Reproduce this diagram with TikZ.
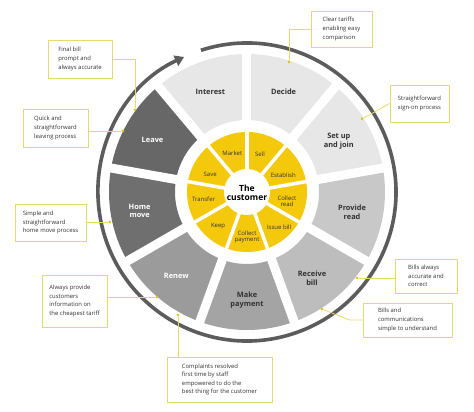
\documentclass[tikz,border=0pt]{standalone}
\usepackage{fontspec}
\setmainfont{Open Sans}
\usetikzlibrary{arrows.meta}
\definecolor{eyyellow}{HTML}{F4C90C}
\definecolor{ringgrey}{HTML}{5C5C5C}
\definecolor{calloutline}{HTML}{E6DA6A}
\definecolor{pinyellow}{HTML}{E2C417}
\definecolor{textgrey}{HTML}{333333}
\definecolor{segA}{HTML}{E7E7E7}
\definecolor{segB}{HTML}{C8C8C8}
\definecolor{segC}{HTML}{BDBDBD}
\definecolor{segD}{HTML}{A4A4A4}
\definecolor{segE}{HTML}{9B9B9B}
\definecolor{segF}{HTML}{6F6F6F}
\definecolor{segG}{HTML}{676767}

\begin{document}
\begin{tikzpicture}[x=1pt,y=1pt,
    seglabel/.style={align=center,font=\fontsize{7.4}{8.8}\selectfont\bfseries,text=textgrey},
    darklabel/.style={seglabel,text=white},
    inlabel/.style={align=center,font=\fontsize{6}{6.8}\selectfont,text=textgrey},
    callout/.style={draw=calloutline,line width=0.8pt,fill=white,align=left,
                    inner sep=3pt,font=\fontsize{5.9}{8.6}\selectfont,text=textgrey},
    link/.style={draw=calloutline,line width=0.8pt},
    pin/.style={circle,fill=pinyellow,inner sep=0pt,minimum size=3pt}]

  \useasboundingbox (-247,-220) rectangle (227,192);

  % outer stages
  \foreach \a/\col in {110/segA,70/segA,30/segA,-10/segB,-50/segC,
                       -90/segD,-130/segE,-170/segF,150/segG}{
    \pgfmathsetmacro\lo{\a-20}
    \pgfmathsetmacro\hi{\a+20}
    \fill[\col] (\lo:72) -- (\lo:138) arc[start angle=\lo,end angle=\hi,radius=138pt]
      -- (\hi:72) arc[start angle=\hi,end angle=\lo,radius=72pt] -- cycle;
  }
  \foreach \a in {90,50,...,-230}
    \draw[white,line width=9pt] (\a:62) -- (\a:142);

  % inner yellow wheel
  \fill[eyyellow] (0,0) circle[radius=60pt];
  \foreach \a in {90,50,...,-230}
    \draw[white,line width=3.5pt] (0,0) -- (\a:63);
  \fill[white] (0,0) circle[radius=23pt];

  % ring with arrow
  \draw[ringgrey,line width=3.6pt,-{Triangle[length=9pt,width=11pt]}]
    (108:149) arc[start angle=108,end angle=-245,radius=149pt];

  % stage labels
  \node[seglabel] (interest) at (110:107) {Interest};
  \node[seglabel] (decide) at (70:107) {Decide};
  \node[seglabel] (setup) at (29:105) {Set up\\and join};
  \node[seglabel] (provide) at (-11:107) {Provide\\read};
  \node[seglabel] (receive) at (-53:108) {Receive\\bill};
  \node[seglabel] (payment) at (-90:108) {Make\\payment};
  \node[darklabel] (renew) at (-130:110) {Renew};
  \node[darklabel] (homemove) at (-170:109) {Home\\move};
  \node[darklabel] (leave) at (151:108) {Leave};

  \node[inlabel] (market) at (111:41) {Market};
  \node[inlabel] (sell) at (71:40) {Sell};
  \node[inlabel] (establish) at (25:40) {Establish};
  \node[inlabel] (collectread) at (-13:41) {Collect\\read};
  \node[inlabel] (issuebill) at (-48:48) {Issue bill};
  \node[inlabel] (collectpay) at (-90:45) {Collect\\payment};
  \node[inlabel] (keep) at (-130:45) {Keep};
  \node[inlabel] (transfer) at (-171:44) {Transfer};
  \node[inlabel] (save) at (154:41) {Save};
  \node[align=center,font=\fontsize{8.5}{8.5}\selectfont\bfseries] (customer) at (0,-1) {The\\customer};

  % callouts
  \node[callout,minimum width=64pt,minimum height=38pt] (finalbill) at (-167,133)
    {Final bill\\prompt and\\always accurate};
  \node[callout,minimum width=65pt,minimum height=38pt] (quickleave) at (-191.5,64)
    {Quick and\\straightforward\\leaving process};
  \node[callout,minimum width=71pt,minimum height=37pt] (simplemove) at (-196.5,-30.5)
    {Simple and\\straightforward\\home move process};
  \node[callout,minimum width=65pt,minimum height=52pt] (cheapest) at (-172.5,-109)
    {Always provide\\customers\\information on\\the cheapest tariff};
  \node[callout,minimum width=105pt,minimum height=45pt] (complaints) at (-27.5,-187.5)
    {Complaints resolved\\first time by staff\\empowered to do the\\best thing for the customer};
  \node[callout,minimum width=61pt,minimum height=36pt] (tariffs) at (94.5,163)
    {Clear tariffs\\enabling easy\\comparison};
  \node[callout,minimum width=59pt,minimum height=37pt] (signon) at (172.5,88.5)
    {Straightforward\\sign-on process};
  \node[callout,minimum width=62pt,minimum height=34pt] (accurate) at (179,-84)
    {Bills always\\accurate and\\correct};
  \node[callout,minimum width=89pt,minimum height=34pt] (simplebills) at (160.5,-128)
    {Bills and\\communications\\simple to understand};

  % pins
  \node[pin] (p1) at (-112,82) {};
  \node[pin] (p2) at (-124,61) {};
  \node[pin] (p3) at (-137,-30) {};
  \node[pin] (p4) at (-90,-105) {};
  \node[pin] (p5) at (-69,-123) {};
  \node[pin] (p6) at (42,130) {};
  \node[pin] (p7) at (115,73) {};
  \node[pin] (p8) at (110,-86) {};
  \node[pin] (p9) at (75,-117) {};

  \draw[link] (finalbill.east) -| (p1);
  \draw[link] (p2) -- (p2 -| quickleave.east);
  \draw[link] (p3) -- (p3 -| simplemove.east);
  \draw[link] (p4) -- (p4 -| cheapest.east);
  \draw[link] (p5) -- (p5 |- complaints.north);
  \draw[link] (tariffs.west) -| (p6);
  \draw[link] (signon.west) -- (p7);
  \draw[link] (p8) -- (p8 -| accurate.west);
  \draw[link] (p9) -- ([xshift=-13pt]simplebills.west) -- (simplebills.west);
\end{tikzpicture}
\end{document}
